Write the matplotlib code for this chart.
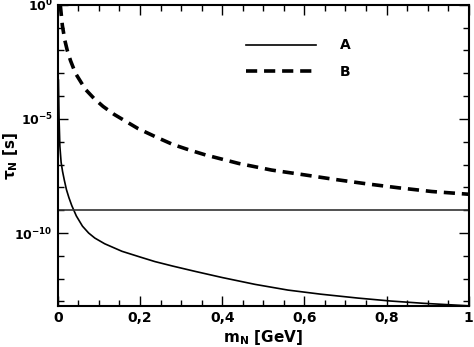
import matplotlib
matplotlib.use("Agg")
import matplotlib.pyplot as plt
import numpy as np
from matplotlib.ticker import FixedLocator, MultipleLocator

# ---- data ----
mA = [0.0015, 0.003, 0.005, 0.008, 0.0115, 0.016, 0.021, 0.027, 0.034, 0.045,
      0.06, 0.075, 0.09, 0.114, 0.156, 0.2, 0.236, 0.28, 0.334, 0.4, 0.48, 0.56,
      0.64, 0.73, 0.81, 0.89, 0.97, 1.0]
logtauA = [-3.3, -5.0, -6.2, -6.9, -7.3, -7.7, -8.1, -8.45, -8.8, -9.25,
           -9.7, -10.0, -10.22, -10.47, -10.8, -11.05, -11.25, -11.45, -11.68, -11.95,
           -12.25, -12.5, -12.68, -12.85, -12.98, -13.08, -13.16, -13.19]
mB = [0.006, 0.011, 0.017, 0.023, 0.031, 0.043, 0.055, 0.067, 0.088, 0.11,
      0.137, 0.165, 0.195, 0.24, 0.28, 0.32, 0.36, 0.44, 0.52, 0.6, 0.67, 0.75,
      0.83, 0.91, 1.0]
logtauB = [0.0, -0.9, -1.55, -2.0, -2.45, -3.0, -3.35, -3.7, -4.1, -4.45,
           -4.8, -5.1, -5.42, -5.8, -6.12, -6.36, -6.58, -6.95, -7.24, -7.45, -7.64,
           -7.84, -8.02, -8.18, -8.3]
hline_tau = 1e-9
labels = ["A", "B"]
xticks = [0, 0.2, 0.4, 0.6, 0.8, 1.0]
xticklabels = ["0", "0,2", "0,4", "0,6", "0,8", "1"]
yticks = [1e0, 1e-5, 1e-10]
yticklabels = [r"$\mathbf{10^{0}}$", r"$\mathbf{10^{-5}}$", r"$\mathbf{10^{-10}}$"]

plt.rcParams['font.family'] = ['DejaVu Sans']
plt.rcParams['font.weight'] = 'bold'
plt.rcParams['mathtext.fontset'] = 'dejavusans'
plt.rcParams['mathtext.default'] = 'bf'

fig = plt.figure(figsize=(4.74, 3.47), dpi=100)
ax = fig.add_axes([0.122, 0.118, 0.867, 0.868])

ax.plot(mA, 10.0 ** np.array(logtauA), color='black', lw=1.2, label=labels[0])
ax.plot(mB, 10.0 ** np.array(logtauB), color='black', lw=2.6,
        dashes=(3.1, 1.9), label=labels[1])
ax.axhline(hline_tau, color='#333333', lw=1.2)

ax.set_yscale('log')
ax.set_xlim(0, 1)
ax.set_ylim(10 ** -13.2, 1.0)

ax.set_xticks(xticks)
ax.set_xticklabels(xticklabels, fontsize=10, fontweight='bold')
ax.xaxis.set_minor_locator(MultipleLocator(0.05))
ax.yaxis.set_major_locator(FixedLocator(yticks))
ax.set_yticklabels(yticklabels, fontsize=9)
ax.yaxis.set_minor_locator(FixedLocator([10.0 ** k for k in range(-13, 1)]))
ax.yaxis.set_minor_formatter(plt.NullFormatter())

ax.tick_params(which='both', direction='in', top=True, right=True, width=1.0)
ax.tick_params(which='major', length=7)
ax.tick_params(which='minor', length=4)
for s in ax.spines.values():
    s.set_linewidth(1.5)

ax.set_xlabel(r"$\mathbf{m_N}$ [GeV]", fontsize=11, fontweight='bold', labelpad=2)
ax.set_ylabel(r"$\mathbf{\tau_N}$ [s]", fontsize=11, fontweight='bold')
ax.yaxis.set_label_coords(-0.093, 0.5)

leg = ax.legend(loc='upper right', bbox_to_anchor=(0.742, 0.93), frameon=False,
                handlelength=5.0, handletextpad=1.7, labelspacing=0.9,
                prop={'weight': 'bold', 'size': 10})

fig.savefig("out.png", dpi=100)
